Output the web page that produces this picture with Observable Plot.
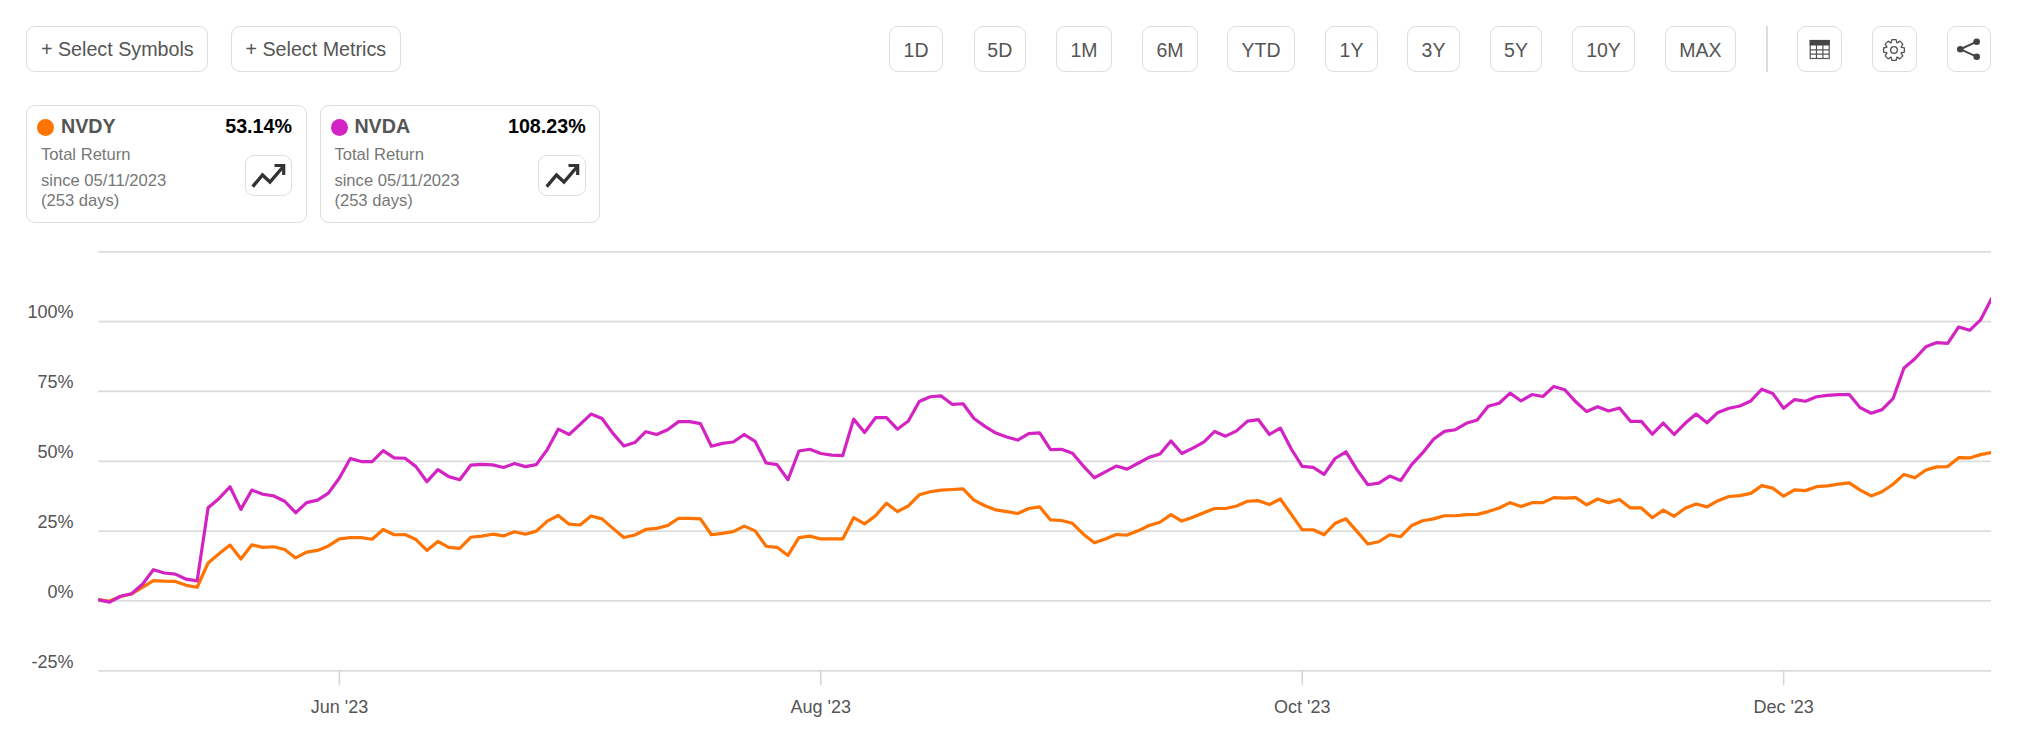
<!DOCTYPE html>
<html>
<head>
<meta charset="utf-8">
<script src="https://cdn.jsdelivr.net/npm/d3@7"></script>
<script src="https://cdn.jsdelivr.net/npm/@observablehq/plot@0.6"></script>
<style>
html,body{margin:0;padding:0;background:#fff;width:2024px;height:750px;overflow:hidden;font-family:"Liberation Sans",Arial,sans-serif}
.box{position:absolute;box-sizing:border-box;border:1.5px solid #ddd;border-radius:9px;background:#fff}
.t{position:absolute;white-space:nowrap}
#chart{position:absolute;left:0;top:240px}
.ico{position:absolute}
</style>
</head>
<body>
<div id="ui"></div>
<div id="chart"></div>
<script>
const nvda = [0.4,-0.4,1.7,2.6,6.0,11.2,10.0,9.6,7.8,7.2,33.4,36.7,40.9,32.8,39.7,38.2,37.6,35.7,31.6,35.2,36.1,38.6,44.0,51.0,49.9,49.9,53.8,51.2,51.1,48.1,42.7,47.0,44.5,43.4,48.6,48.9,48.7,47.8,49.2,48.1,48.8,54.2,61.5,59.6,63.2,66.9,65.3,60.0,55.5,56.7,60.6,59.6,61.3,64.2,64.2,63.5,55.4,56.4,56.9,59.6,57.1,49.4,48.8,43.4,53.7,54.3,52.8,52.2,52.0,65.1,60.3,65.6,65.6,61.5,64.4,71.4,73.1,73.4,70.4,70.6,65.3,62.5,60.1,58.7,57.6,59.9,60.2,54.2,54.3,52.9,48.3,44.1,46.2,48.3,47.2,49.3,51.4,52.6,57.3,52.8,54.7,56.9,60.7,59.0,60.9,64.4,64.9,59.6,61.9,54.4,48.2,47.8,45.3,51.0,53.4,47.0,41.6,42.2,44.7,43.1,48.8,53.0,57.9,60.7,61.3,63.6,64.8,69.7,70.8,74.4,71.6,73.9,73.2,76.8,75.6,71.3,67.8,69.5,68.0,69.1,64.3,64.3,59.7,63.7,59.6,63.6,66.9,63.8,67.5,69.0,69.8,71.6,75.8,74.3,69.0,72.1,71.5,73.1,73.6,73.9,73.9,69.2,67.2,68.5,72.4,83.4,86.7,91.0,92.5,92.2,98.1,96.9,100.6,108.23];
const nvdy = [0.4,0.0,1.6,2.5,4.9,7.3,7.1,7.0,5.6,4.9,13.6,16.9,20.0,15.0,20.1,19.2,19.4,18.4,15.4,17.5,18.1,19.7,22.2,22.7,22.7,22.1,25.6,23.7,23.8,22.0,18.1,21.3,19.2,18.8,22.8,23.2,23.9,23.3,24.8,23.9,25.0,28.6,30.6,27.5,27.2,30.4,29.4,26.0,22.7,23.6,25.6,26.0,27.0,29.6,29.6,29.4,23.7,24.2,24.8,26.8,25.1,19.6,19.2,16.3,22.7,23.2,22.2,22.2,22.2,29.8,27.6,30.5,35.0,32.0,34.0,38.0,39.1,39.7,39.9,40.1,36.1,34.1,32.6,32.0,31.3,33.1,33.7,29.0,28.8,27.8,23.9,20.8,22.2,23.8,23.6,25.1,27.0,28.2,30.9,28.6,30.0,31.6,33.1,33.1,34.0,35.7,35.9,34.5,36.5,31.0,25.5,25.5,23.7,27.8,29.4,24.9,20.4,21.2,23.7,23.0,27.0,28.7,29.4,30.5,30.5,30.9,31.0,32.0,33.3,35.2,33.8,35.2,35.2,37.0,36.8,37.0,34.4,36.5,35.2,36.3,33.3,33.3,29.8,32.5,30.3,33.2,34.7,33.7,35.9,37.4,37.7,38.5,41.3,40.4,37.5,39.8,39.5,40.9,41.2,41.8,42.3,39.7,37.6,39.1,41.8,45.3,44.1,46.9,48.0,48.1,51.3,51.2,52.4,53.14];
const tickIndex = [22,66,110,154];
const tickLabels = ["Jun '23","Aug '23","Oct '23","Dec '23"];
const gridValues = [-25,0,25,50,75,100,125];
const yLabelValues = [-25,0,25,50,75,100];
const symbols = ["NVDY","NVDA"];
const colors = ["#ff7300","#d323c3"];
const returns = ["53.14%","108.23%"];
const ranges = ["1D","5D","1M","6M","YTD","1Y","3Y","5Y","10Y","MAX"];
const rangeEdges = [[889,943],[973.5,1026],[1056,1112],[1142,1198],[1227,1295],[1325,1378],[1407,1460],[1490,1542],[1572,1635],[1665,1736]];

const rows = [
  ...nvdy.map((value,i)=>({i,value,symbol:"NVDY"})),
  ...nvda.map((value,i)=>({i,value,symbol:"NVDA"}))
];

const chart = Plot.plot({
  width:2024, height:510,
  marginLeft:98.2, marginRight:33, marginTop:11.3, marginBottom:79.7,
  clip:true,
  style:{background:"transparent",fontFamily:'"Liberation Sans",Arial,sans-serif'},
  x:{type:"linear",domain:[0,173],axis:null},
  y:{domain:[-25,125],axis:null},
  color:{domain:symbols,range:colors},
  marks:[
    Plot.ruleY(gridValues,{stroke:"#dcdcdc",strokeWidth:1.8,clip:false}),
    Plot.axisX({ticks:tickIndex,tickFormat:d=>tickLabels[tickIndex.indexOf(d)],tickSize:15,tickPadding:14,
      stroke:"#d5d5d5",strokeWidth:1.5,fill:"#555",fontSize:18,label:null,clip:false}),
    Plot.axisY({ticks:yLabelValues,tickFormat:d=>d+"%",tickSize:0,tickPadding:25.2,fill:"#555",fontSize:18,dy:-9,label:null,clip:false}),
    Plot.line(rows,{x:"i",y:"value",stroke:"symbol",z:"symbol",strokeWidth:3.2,curve:"linear"})
  ]
});
document.getElementById("chart").appendChild(chart);

const ui = document.getElementById("ui");
function box(x0,y0,x1,y1,extra){
  const d=document.createElement("div");d.className="box";
  d.style.cssText=`left:${x0}px;top:${y0}px;width:${x1-x0}px;height:${y1-y0}px;${extra||""}`;
  ui.appendChild(d);return d;
}
function text(str,x,baseline,size,color,opts={}){
  const d=document.createElement("div");d.className="t";d.textContent=str;
  const L=size*1.2, top=baseline-(L/2+0.3465*size);
  let pos=`top:${top}px;line-height:${L}px;font-size:${size}px;color:${color};font-weight:${opts.bold?"bold":"normal"};`;
  if(opts.anchor==="end") pos+=`right:${2024-x}px;`;
  else if(opts.anchor==="middle") pos+=`left:${x}px;transform:translateX(-50%);`;
  else pos+=`left:${x}px;`;
  d.style.cssText=pos;ui.appendChild(d);
}
function icon(x,y,w,h,inner){
  const d=document.createElement("div");d.className="ico";
  d.style.cssText=`left:${x}px;top:${y}px;width:${w}px;height:${h}px`;
  d.innerHTML=`<svg xmlns="http://www.w3.org/2000/svg" width="${w}" height="${h}" viewBox="0 0 ${w} ${h}">${inner}</svg>`;
  ui.appendChild(d);
}
// top buttons
box(26,26.3,208,71.7);
text("+ Select Symbols",41,57,19.7,"#555");
box(231,26.3,401,71.7);
text("+ Select Metrics",245.5,57,19.7,"#555");
ranges.forEach((r,i)=>{
  const [a,b]=rangeEdges[i];
  box(a,26.3,b,71.7);
  text(r,(a+b)/2,57,19.5,"#555",{anchor:"middle"});
});
// separator
const sep=document.createElement("div");
sep.style.cssText="position:absolute;left:1765.5px;top:26px;width:2px;height:46px;background:#ddd";
ui.appendChild(sep);
box(1797,26.3,1842,71.7);box(1872,26.3,1917,71.7);box(1947,26.3,1991,71.7);
// table icon
icon(1809,39,21,21,`<rect x="1.2" y="1.5" width="19" height="18" fill="none" stroke="#555" stroke-width="1.2"/><rect x="0.7" y="1" width="20" height="5.5" fill="#444"/><path d="M7.5 6V19.5M13.9 6V19.5M1 10.8H20.5M1 15.1H20.5" stroke="#555" stroke-width="1.2"/>`);
// gear icon: eight teeth
const gearPts=[];
for(let k=0;k<8;k++){
  const c=k*Math.PI/4;
  [[-0.36,7.8],[-0.2,10.6],[0.2,10.6],[0.36,7.8]].forEach(([da,r])=>gearPts.push([(r*Math.sin(c+da)).toFixed(2),(-r*Math.cos(c+da)).toFixed(2)]));
}
icon(1881.5,38,24,24,`<g transform="translate(12,12)" fill="none" stroke="#555" stroke-width="1.3" stroke-linejoin="round"><circle r="3.4"/><path d="M${gearPts.map(p=>p.join(",")).join(" L")} Z"/></g>`);
// share icon
icon(1956,38,24,22,`<path d="M20.7 3.7 L4.3 11.3 L20.7 18.7" fill="none" stroke="#444" stroke-width="2"/><circle cx="20.7" cy="3.7" r="3.3" fill="#444"/><circle cx="4.3" cy="11.3" r="3.3" fill="#444"/><circle cx="20.7" cy="18.7" r="3.3" fill="#444"/>`);
// cards
symbols.forEach((s,i)=>{
  const dx=i===0?0:293.4;
  box(26.3+dx,105.3,i===0?306.7:599.6,223.3);
  const dot=document.createElement("div");
  dot.style.cssText=`position:absolute;left:${37.3+dx}px;top:119px;width:17px;height:17px;border-radius:50%;background:${colors[i]}`;
  ui.appendChild(dot);
  text(s,61+dx,134,19.7,"#555",{bold:true});
  text(returns[i],292+(i===0?0:293.7),134,19.7,"#000",{bold:true,anchor:"end"});
  text("Total Return",41+dx,161,16.6,"#777");
  text("since 05/11/2023",41+dx,187,16.6,"#777");
  text("(253 days)",41+dx,206.5,16.6,"#777");
  box(244.6+(i===0?0:293.8),155.3,292.4+(i===0?0:293.3),195.7);
  icon(251+(i===0?0:293.6),163,35,26,`<path d="M1.7 23.7 L11.5 12 L19 19 L31.5 4.5" fill="none" stroke="#333" stroke-width="3.4"/><path d="M23.5 2.5 L32.7 2.5 L32.7 12" fill="none" stroke="#333" stroke-width="3.2"/>`);
});
</script>
</body>
</html>
